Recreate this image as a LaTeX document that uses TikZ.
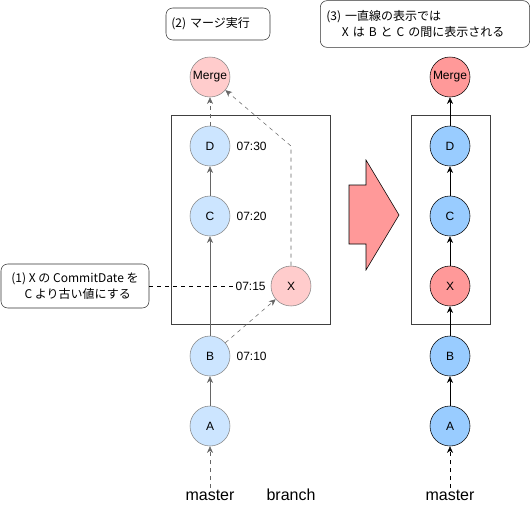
\documentclass[tikz,border=0pt]{standalone}
\usepackage{fontspec}
\setmainfont{Liberation Sans}
\newfontfamily\jpfont{Noto Sans CJK JP}
\usetikzlibrary{arrows.meta}
\definecolor{oldblue}{HTML}{CCE5FF}
\definecolor{oldred}{HTML}{FFCCCC}
\definecolor{newblue}{HTML}{99CCFF}
\definecolor{newred}{HTML}{FF9999}
\definecolor{linegray}{HTML}{666666}

\begin{document}
\begin{tikzpicture}[x=0.75pt, y=-0.75pt, font=\fontsize{9}{11}\selectfont, >={Stealth[length=5pt, width=4.5pt]}]
\tikzstyle{commit}=[circle, draw=linegray!80, fill=oldblue, minimum size=30pt, inner sep=0pt]
\tikzstyle{commitred}=[commit, fill=oldred]
\tikzstyle{commitnew}=[circle, draw=black, fill=newblue, minimum size=30pt, inner sep=0pt]
\tikzstyle{commitnewred}=[commitnew, fill=newred]
\tikzstyle{tm}=[anchor=west, inner sep=1pt]
\tikzstyle{note}=[draw=black!80, fill=white, rounded corners=5pt, font=\jpfont\fontsize{9}{12}\selectfont]
\tikzstyle{ref}=[font=\fontsize{12}{14}\selectfont, inner sep=1pt]
\useasboundingbox (0,0) rectangle (531,507);

% left: before the merge
\draw[black!75] (171,115) rectangle (330,324);
\node[commitred] (M1) at (210,77) {Merge};
\node[commit] (D1) at (210,146) {D};
\node[commit] (C1) at (210,216) {C};
\node[commitred] (X1) at (291,286) {X};
\node[commit] (B1) at (210,356) {B};
\node[commit] (A1) at (210,426) {A};
\node[tm] (t30) at (235,146) {07:30};
\node[tm] (t20) at (235,216) {07:20};
\node[tm] (t15) at (234,286) {07:15};
\node[tm] (t10) at (235,356) {07:10};
\node[ref] (master1) at (210,495) {master};
\node[ref] (branch) at (291,495) {branch};
\coordinate (bend) at (291,146);

\draw[->, linegray] (A1) -- (B1);
\draw[->, linegray] (B1) -- (C1);
\draw[->, linegray] (C1) -- (D1);
\draw[->, linegray, dashed] (D1) -- (M1);
\draw[->, linegray, dashed] (B1) -- (X1);
\draw[->, linegray, dashed] (X1) -- (bend) -- (M1);
\draw[->, linegray, dashed] (master1) -- (A1);

% notes
\node[note, minimum width=111pt, minimum height=33pt, align=center] (note1) at (75,286) {(1) X の CommitDate を\\\ \ C より古い値にする};
\node[note, minimum width=78pt, minimum height=24pt, text width=70pt, align=left] (note2) at (218,24) {(2) マージ実行};
\node[note, minimum width=157pt, minimum height=35pt, text width=148pt, align=left] (note3) at (425,24) {(3) 一直線の表示では\\\hspace*{1.3em}X は B と C の間に表示される};
\draw[dashed] (note1) -- (t15);

% big arrow
\draw[black, fill=newred] (349,185) -- (366,185) -- (366,160) -- (399,215) -- (366,270) -- (366,244) -- (349,244) -- cycle;

% right: linear view
\draw[black!75] (411,115) rectangle (490,324);
\node[commitnewred] (M2) at (450,77) {Merge};
\node[commitnew] (D2) at (450,146) {D};
\node[commitnew] (C2) at (450,216) {C};
\node[commitnewred] (X2) at (450,286) {X};
\node[commitnew] (B2) at (450,356) {B};
\node[commitnew] (A2) at (450,426) {A};
\node[ref] (master2) at (450,495) {master};

\draw[->] (A2) -- (B2);
\draw[->] (B2) -- (X2);
\draw[->] (X2) -- (C2);
\draw[->] (C2) -- (D2);
\draw[->] (D2) -- (M2);
\draw[->, dashed] (master2) -- (A2);
\end{tikzpicture}
\end{document}
